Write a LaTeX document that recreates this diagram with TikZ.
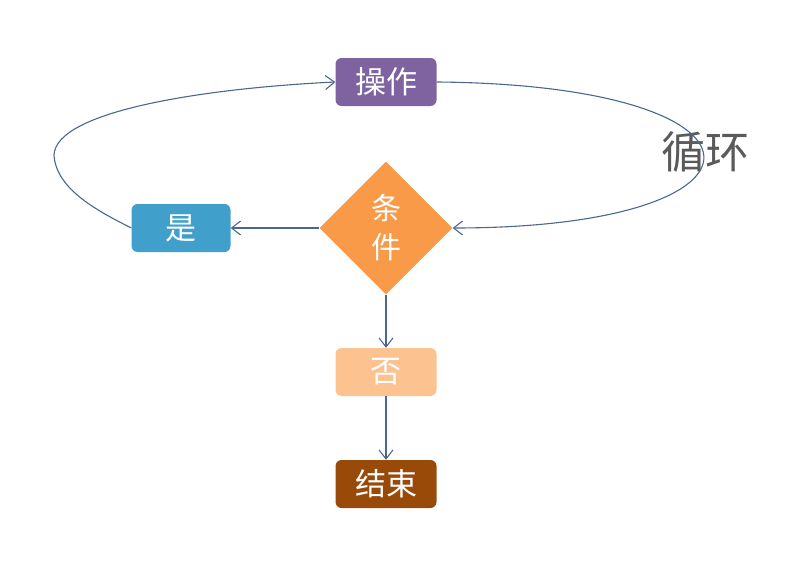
\documentclass[tikz,border=0pt]{standalone}
\usepackage{fontspec}
\setmainfont{Noto Sans CJK SC}
\usepackage{tikz}
\usetikzlibrary{shapes.geometric, arrows.meta, positioning}
\definecolor{opcol}{HTML}{7F63A1}
\definecolor{yescol}{HTML}{409FCB}
\definecolor{condcol}{HTML}{F99A48}
\definecolor{nocol}{HTML}{FCC391}
\definecolor{stopcol}{HTML}{994A09}
\definecolor{linecol}{HTML}{4C6690}
\definecolor{loopcol}{HTML}{5A5A5A}
\tikzstyle{box} = [rectangle, rounded corners=6pt, minimum width=101pt, minimum height=48pt, inner sep=0pt, text=white, font=\fontsize{31}{39}\selectfont]
\tikzstyle{cnode} = [diamond, minimum width=133pt, minimum height=133pt, inner sep=0pt, fill=condcol, text=white, align=center, font=\fontsize{30}{39}\selectfont]
\tikzstyle{line} = [draw, color=linecol, line width=1.1pt, -{Straight Barb[length=9pt, width=14pt]}]

\begin{document}
\begin{tikzpicture}[x=1pt, y=-1pt]
			\useasboundingbox (0, 0) rectangle (804, 562);
			\node [box, fill=opcol] (op) at (386, 82) {操作};
			\node [cnode] (cond) at (386, 228) {条\\件};
			\node [box, fill=yescol, minimum width=99pt] (yes) at (181, 228) {是};
			\node [box, fill=nocol] (no) at (386, 372) {否};
			\node [box, fill=stopcol] (stop) at (386, 484) {结束};
			\node [text=loopcol, font=\fontsize{44}{44}\selectfont] (loop) at (705, 152) {循环};
			
			\path [line] (cond) -- (yes);
			\path [line] (cond) -- (no);
			\path [line] (no) -- (stop);
			\path [line] (yes.west) .. controls (100, 212) and (56, 190) .. (54, 155) .. controls (56, 110) and (210, 88) .. (op.west);
			\path [line] (op.east) .. controls (790, 85) and (790, 228) .. (cond.east);
		\end{tikzpicture}
\end{document}
